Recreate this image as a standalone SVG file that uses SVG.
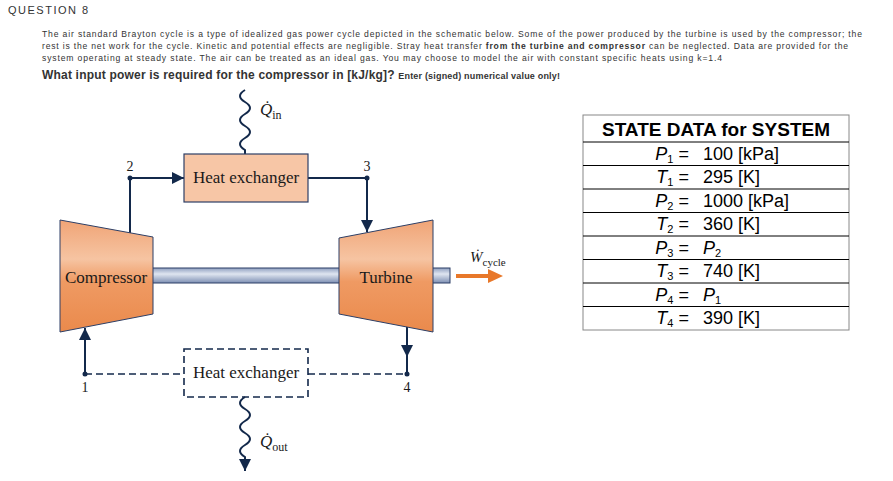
<svg xmlns="http://www.w3.org/2000/svg" width="893" height="481" viewBox="0 0 893 481">
<defs>
<linearGradient id="mach" x1="0" y1="0" x2="0" y2="1">
<stop offset="0" stop-color="#f0a476"/><stop offset="0.35" stop-color="#f6c4a2"/><stop offset="0.55" stop-color="#ef9a63"/><stop offset="1" stop-color="#ea8a4c"/>
</linearGradient>
<linearGradient id="shaft" x1="0" y1="0" x2="0" y2="1">
<stop offset="0" stop-color="#8fa0c0"/><stop offset="0.4" stop-color="#dfe5f0"/><stop offset="1" stop-color="#7d8fb3"/>
</linearGradient>
<marker id="ahb" viewBox="0 0 10 10" refX="10" refY="5" markerWidth="16" markerHeight="12" markerUnits="userSpaceOnUse" orient="auto"><path d="M0,0L10,5L0,10z" fill="#13294b"/></marker>
</defs>
<style>
.q{font-family:"Liberation Sans",Arial,sans-serif;fill:#333}
.s{font-family:"Liberation Serif","Times New Roman",serif;fill:#1a1a1a}
.ln{stroke:#13294b;stroke-width:2;fill:none}
.dl{stroke:#13294b;stroke-width:1.6;fill:none;stroke-dasharray:7,4}
.tb{font-family:"Liberation Sans",Arial,sans-serif;font-size:18px;fill:#000}
.rl{stroke:#000;stroke-width:1}
</style>
<rect width="893" height="481" fill="#fff"/>
<text class="q" x="8" y="14" font-size="11" letter-spacing="1.5">QUESTION 8</text>
<text class="q" x="42" y="37" font-size="8.6" textLength="820" lengthAdjust="spacing">The air standard Brayton cycle is a type of idealized gas power cycle depicted in the schematic below.  Some of the power produced by the turbine is used by the compressor; the</text>
<text class="q" x="42" y="49" font-size="8.6" textLength="806" lengthAdjust="spacing">rest is the net work for the cycle.  Kinetic and potential effects are negligible.  Stray heat transfer <tspan font-weight="bold">from the turbine and compressor</tspan> can be neglected.  Data are provided for the</text>
<text class="q" x="42" y="61" font-size="8.6" textLength="680" lengthAdjust="spacing">system operating at steady state.  The air can be treated as an ideal gas.  You may choose to model the air with constant specific heats using k=1.4</text>
<text class="q" x="42" y="79" font-size="12" font-weight="bold" fill="#222" textLength="518" lengthAdjust="spacing">What input power is required for the compressor in [kJ/kg]? <tspan font-size="9">Enter (signed) numerical value only!</tspan></text>

<g id="connectors">
<path class="ln" d="M245,90 q-10,6 0,12 q10,6 0,12 q-10,6 0,12 q10,6 0,12 q-10,6 0,12 v16" marker-end="url(#ahb)"/>
<path class="ln" d="M130,233 V178 H184" marker-end="url(#ahb)"/>
<path class="ln" d="M308,178 H367 V232" marker-end="url(#ahb)"/>
<path class="ln" d="M407,326 V357" marker-end="url(#ahb)"/>
<path class="ln" d="M407,355 V374"/>
<path class="ln" d="M85,374 V328" marker-end="url(#ahb)"/>
<path class="dl" d="M85,374 H184 M308,374 H407"/>
<path class="ln" d="M245,397 q-10,6 0,12 q10,6 0,12 q-10,6 0,12 q10,6 0,12 q-10,6 0,12 v14" marker-end="url(#ahb)"/>
<circle cx="130" cy="178" r="2.5" fill="#13294b"/>
<circle cx="367" cy="178" r="2.5" fill="#13294b"/>
<circle cx="85" cy="374" r="2.5" fill="#13294b"/>
<circle cx="407" cy="374" r="2.5" fill="#13294b"/>
<text class="s" x="130" y="171" font-size="14" text-anchor="middle">2</text>
<text class="s" x="367" y="171" font-size="14" text-anchor="middle">3</text>
<text class="s" x="85" y="392" font-size="14" text-anchor="middle">1</text>
<text class="s" x="407" y="392" font-size="14" text-anchor="middle">4</text>
<text class="s" x="260" y="115" font-size="17" font-style="italic">Q̇<tspan font-style="normal" font-size="12" dy="4">in</tspan></text>
<text class="s" x="260" y="447" font-size="17" font-style="italic">Q̇<tspan font-style="normal" font-size="12" dy="4">out</tspan></text>
</g>

<g id="shaft">
<rect x="150" y="268" width="300" height="15" fill="url(#shaft)" stroke="#2d3f66" stroke-width="1"/>
</g>
<g id="compressor">
<path d="M60,220 L153,237 L153,314 L60,332 Z" fill="url(#mach)" stroke="#2d3f66" stroke-width="1"/>
<text class="s" x="106" y="283" font-size="17" text-anchor="middle">Compressor</text>
</g>
<g id="turbine">
<path d="M339,238 L433,220 L433,332 L339,314 Z" fill="url(#mach)" stroke="#2d3f66" stroke-width="1"/>
<text class="s" x="386" y="283" font-size="17" text-anchor="middle">Turbine</text>
</g>
<g id="work">
<path d="M456,276 H490" stroke="#e8782a" stroke-width="4"/>
<path d="M488,269 L503,276 L488,283 Z" fill="#e8782a"/>
<text class="s" x="470" y="262" font-size="15" font-style="italic">Ẇ<tspan font-style="normal" font-size="11" dy="4">cycle</tspan></text>
</g>
<g id="hx-top">
<rect x="184" y="154" width="124" height="48" fill="#f7c6a6" stroke="#2d3f66" stroke-width="1.2"/>
<text class="s" x="246" y="183" font-size="17" text-anchor="middle">Heat exchanger</text>
</g>
<g id="hx-bottom">
<rect x="184" y="349" width="124" height="48" fill="#fff" class="dl"/>
<text class="s" x="246" y="378" font-size="17" text-anchor="middle">Heat exchanger</text>
</g>

<g id="table">
<rect x="583" y="115" width="266" height="215" fill="#fff" stroke="#888" stroke-width="1"/>
<text x="716" y="136" font-family="Liberation Sans,Arial,sans-serif" font-size="19" font-weight="bold" text-anchor="middle">STATE DATA for SYSTEM</text>
<g class="rl">
<line x1="583" y1="142" x2="849" y2="142"/><line x1="583" y1="165.5" x2="849" y2="165.5"/><line x1="583" y1="189" x2="849" y2="189"/><line x1="583" y1="212.5" x2="849" y2="212.5"/><line x1="583" y1="236" x2="849" y2="236"/><line x1="583" y1="259.5" x2="849" y2="259.5"/><line x1="583" y1="283" x2="849" y2="283"/><line x1="583" y1="306.5" x2="849" y2="306.5"/>
</g>
<g class="tb">
<text x="689" y="160" text-anchor="end"><tspan font-style="italic">P</tspan><tspan font-size="11" dy="3">1</tspan><tspan dy="-3"> =</tspan></text><text x="703" y="160">100 [kPa]</text>
<text x="689" y="183" text-anchor="end"><tspan font-style="italic">T</tspan><tspan font-size="11" dy="3">1</tspan><tspan dy="-3"> =</tspan></text><text x="703" y="183">295 [K]</text>
<text x="689" y="207" text-anchor="end"><tspan font-style="italic">P</tspan><tspan font-size="11" dy="3">2</tspan><tspan dy="-3"> =</tspan></text><text x="703" y="207">1000 [kPa]</text>
<text x="689" y="230" text-anchor="end"><tspan font-style="italic">T</tspan><tspan font-size="11" dy="3">2</tspan><tspan dy="-3"> =</tspan></text><text x="703" y="230">360 [K]</text>
<text x="689" y="254" text-anchor="end"><tspan font-style="italic">P</tspan><tspan font-size="11" dy="3">3</tspan><tspan dy="-3"> =</tspan></text><text x="703" y="254"><tspan font-style="italic">P</tspan><tspan font-size="11" dy="3">2</tspan></text>
<text x="689" y="277" text-anchor="end"><tspan font-style="italic">T</tspan><tspan font-size="11" dy="3">3</tspan><tspan dy="-3"> =</tspan></text><text x="703" y="277">740 [K]</text>
<text x="689" y="301" text-anchor="end"><tspan font-style="italic">P</tspan><tspan font-size="11" dy="3">4</tspan><tspan dy="-3"> =</tspan></text><text x="703" y="301"><tspan font-style="italic">P</tspan><tspan font-size="11" dy="3">1</tspan></text>
<text x="689" y="324" text-anchor="end"><tspan font-style="italic">T</tspan><tspan font-size="11" dy="3">4</tspan><tspan dy="-3"> =</tspan></text><text x="703" y="324">390 [K]</text>
</g>
</g>
</svg>
